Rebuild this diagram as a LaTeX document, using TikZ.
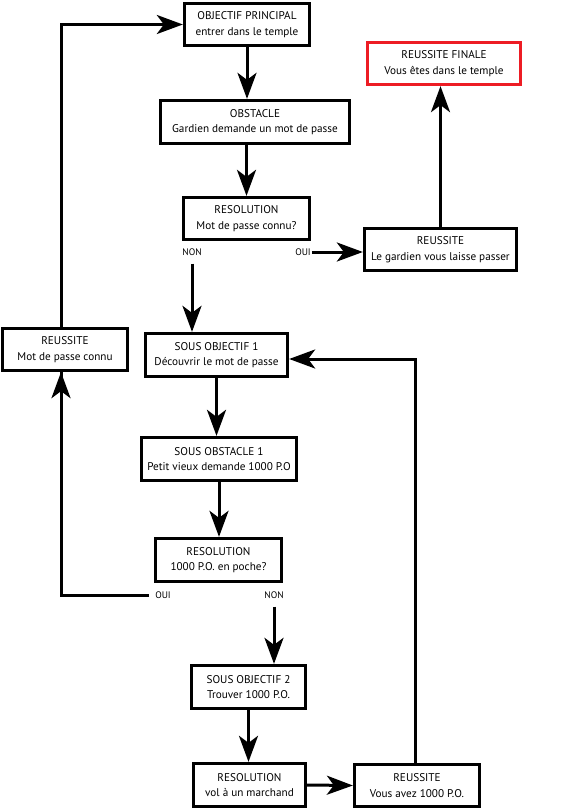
\documentclass[tikz,border=0pt]{standalone}
\usepackage{fontspec}
\setmainfont{PT Sans}
\usetikzlibrary{arrows.meta}
\definecolor{finalred}{RGB}{237,28,36}
\tikzset{
  stepbox/.style={draw=black, line width=3.3pt, align=center, inner sep=0pt, font=\fontsize{11.2}{15.5}\selectfont},
  finalbox/.style={stepbox, draw=finalred},
  flow/.style={line width=3pt, -{Stealth[length=26pt,width=19pt,inset=7pt]}},
  plainflow/.style={line width=3pt},
  branch/.style={font=\fontsize{9.5}{10}\selectfont, inner sep=1pt},
}

\begin{document}
\begin{tikzpicture}[x=1pt, y=-1pt]
\useasboundingbox (0,0) rectangle (587,810);
% main path
\node[stepbox, minimum width=125pt, minimum height=42pt] (obj) at (247,24.5) {OBJECTIF PRINCIPAL\\entrer dans le temple};
\node[stepbox, minimum width=189pt, minimum height=43pt] (obs) at (255,122) {OBSTACLE\\Gardien demande un mot de passe};
\node[stepbox, minimum width=126pt, minimum height=42pt] (res1) at (246.5,218.5) {RESOLUTION\\Mot de passe connu?};
\node[stepbox, minimum width=152pt, minimum height=42pt] (win0) at (440.5,249.5) {REUSSITE\\Le gardien vous laisse passer};
\node[finalbox, minimum width=153pt, minimum height=42pt] (final) at (444,63.5) {REUSSITE FINALE\\Vous êtes dans le temple};
\node[branch] (non1) at (192,252) {NON};
\node[branch] (oui1) at (303,252) {OUI};
% sub path
\node[stepbox, minimum width=142pt, minimum height=43pt] (sub1) at (216.5,355) {SOUS OBJECTIF 1\\Découvrir le mot de passe};
\node[stepbox, minimum width=125pt, minimum height=42pt] (win1) at (65,349.5) {REUSSITE\\Mot de passe connu};
\node[stepbox, minimum width=155pt, minimum height=43pt] (subobs) at (219,459) {SOUS OBSTACLE 1\\Petit vieux demande 1000 P.O};
\node[stepbox, minimum width=126pt, minimum height=43pt] (res2) at (218.5,560) {RESOLUTION\\1000 P.O. en poche?};
\node[branch] (oui2) at (163,595) {OUI};
\node[branch] (non2) at (274,595) {NON};
\node[stepbox, minimum width=114pt, minimum height=43pt] (sub2) at (248.5,687) {SOUS OBJECTIF 2\\Trouver 1000 P.O.};
\node[stepbox, minimum width=112pt, minimum height=43pt] (res3) at (249.5,785) {RESOLUTION\\vol à un marchand};
\node[stepbox, minimum width=125pt, minimum height=42pt] (win2) at (417,785.5) {REUSSITE\\Vous avez 1000 P.O.};
% connectors
\draw[flow] (obj.south) -- (obj.south |- obs.north);
\draw[flow] (res1.north |- obs.south) -- (res1.north);
\draw[flow] (oui1.east) -- (win0.west |- oui1.east);
\draw[flow] (win0.north) -- (win0.north |- final.south);
\draw[flow, shorten <=7pt] (non1.south) -- (non1.south |- sub1.north);
\draw[flow] (sub1.south) -- (sub1.south |- subobs.north);
\draw[flow] (subobs.south) -- (subobs.south |- res2.north);
\draw[plainflow] ([xshift=-5pt]oui2.west) -| ([xshift=-4pt]win1.south);
\draw[flow] ([xshift=-4pt]win1.south |- oui2.west) -- ([xshift=-4pt]win1.south);
\draw[flow] ([xshift=-4pt]win1.north) |- (obj.west);
\draw[flow, shorten <=7pt] (non2.south) -- (non2.south |- sub2.north);
\draw[flow] (sub2.south) -- (sub2.south |- res3.north);
\draw[flow] (res3.east) -- (win2.west);
\draw[flow] ([xshift=-2pt]win2.north) |- ([yshift=-4pt]sub1.east);
\end{tikzpicture}
\end{document}
